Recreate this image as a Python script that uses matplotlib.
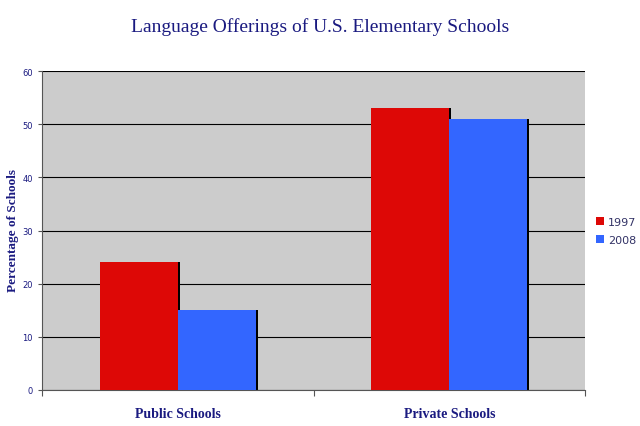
import matplotlib
matplotlib.use("Agg")
import matplotlib.pyplot as plt
import numpy as np

categories = ["Public Schools", "Private Schools"]
series = ["1997", "2008"]
v1997 = [24, 53]
v2008 = [15, 51]
colors = ["#dd0806", "#3366ff"]
navy = "#1a1a80"

fig = plt.figure(figsize=(6.4, 4.27), dpi=100)
ax = fig.add_axes([42/640, 1-391/427, 543/640, 319/427])
ax.set_facecolor("#cccccc")
x = np.arange(len(categories))
w = 0.287
for i, (vals, c, lab) in enumerate(zip([v1997, v2008], colors, series)):
    pos = x - w/2 + i*w
    ax.bar(pos + 0.008, vals, w, color="black", zorder=2)
    ax.bar(pos, vals, w, color=c, label=lab, zorder=3)
ax.set_xlim(-0.5, 1.5)
ax.set_ylim(0, 60)
ax.set_yticks(range(0, 61, 10))
ax.yaxis.grid(True, color="black", linewidth=0.8, zorder=1)
ax.set_xticks([-0.5, 0.5, 1.5], minor=False)
ax.set_xticklabels([])
ax.set_xticks(x, minor=True)
ax.set_xticklabels(categories, minor=True, fontfamily="Liberation Serif",
                   fontweight="bold", fontsize=10, color=navy)
ax.tick_params(axis="x", which="minor", length=0, pad=12)
ax.tick_params(axis="x", which="major", length=4, color="#555555")
ax.tick_params(axis="y", labelsize=6, labelcolor=navy, length=3, color="#555555")
for s in ["top", "right"]:
    ax.spines[s].set_visible(False)
for s in ["left", "bottom"]:
    ax.spines[s].set_color("#555555")
fig.text(13/640, 1-231/427, "Percentage of Schools", rotation=90, ha="center", va="center",
         fontfamily="Liberation Serif", fontweight="bold", fontsize=9.5, color=navy)
fig.text(0.5, 1-27/427, "Language Offerings of U.S. Elementary Schools",
         ha="center", va="center", fontfamily="Liberation Serif", fontsize=14, color=navy)
leg = fig.legend(loc="center left", bbox_to_anchor=(588/640, 1-232/427), frameon=False,
                 fontsize=8, handlelength=0.7, handleheight=0.7, handletextpad=0.4,
                 labelspacing=0.7, borderpad=0.2)
for t in leg.get_texts():
    t.set_color("#333366")
fig.savefig("out.png", dpi=100)
